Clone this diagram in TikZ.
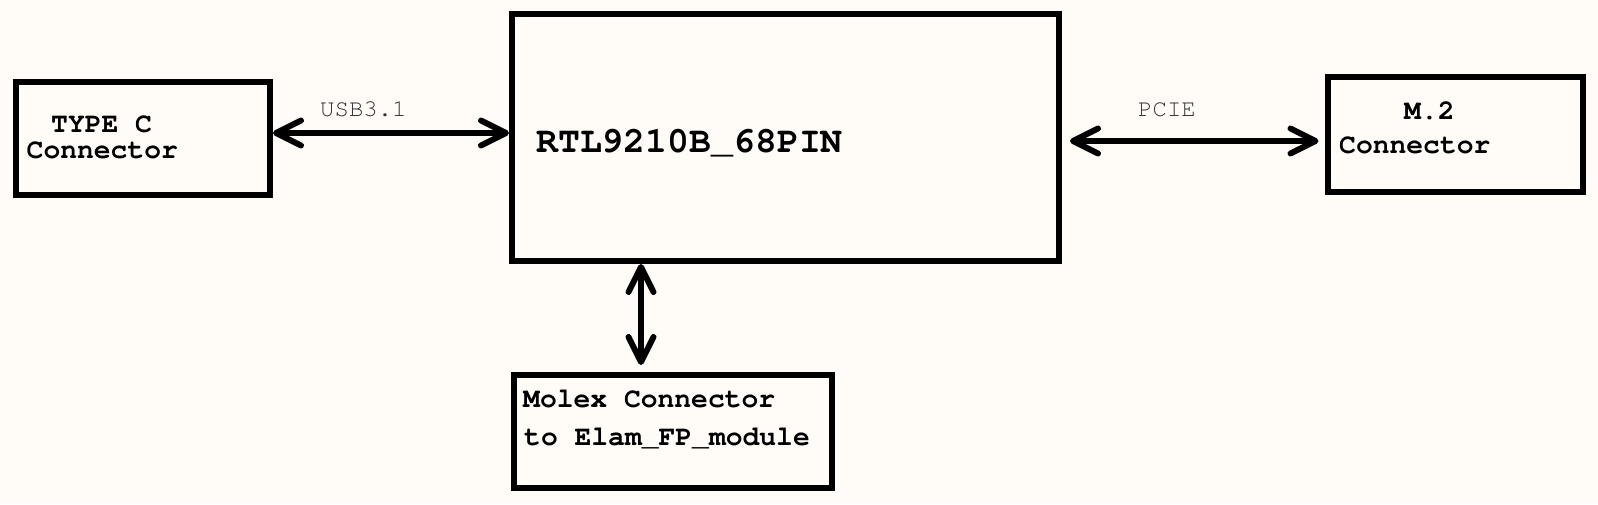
\documentclass[tikz,border=0pt]{standalone}
\usepackage{fontspec}
\setmainfont{texgyrecursor}[Extension=.otf, UprightFont=*-regular, BoldFont=*-bold]
\usetikzlibrary{arrows.meta}
\definecolor{bgc}{HTML}{FFFCF7}
\definecolor{lblc}{HTML}{333333}
\begin{document}
\begin{tikzpicture}[x=1pt,y=-1pt,
  box/.style={draw=black, line width=6pt, inner sep=0pt, rectangle},
  btext/.style={inner sep=0pt, anchor=base west, font=\fontsize{28}{28}\selectfont\bfseries},
  bigtext/.style={inner sep=0pt, anchor=base west, font=\fontsize{36.5}{36.5}\selectfont\bfseries},
  lbl/.style={inner sep=0pt, anchor=base west, text=lblc, font=\fontsize{24}{24}\selectfont},
  arr/.style={line width=6pt, {Straight Barb[length=25pt,width=25pt,round]}-{Straight Barb[length=25pt,width=25pt,round]}}]
\fill[bgc] (0,0) rectangle (1598,504);
\useasboundingbox (0,0) rectangle (1598,504);
% boxes
\node[box, minimum width=254pt, minimum height=113pt] (typec) at (143,138.5) {};
\node[box, minimum width=547pt, minimum height=247pt] (main) at (785.5,137.5) {};
\node[box, minimum width=255pt, minimum height=115pt] (m2) at (1455,134) {};
\node[box, minimum width=318pt, minimum height=113pt] (molex) at (673,431.5) {};
% texts
\node[btext] (t1) at (51,132) {TYPE C};
\node[btext] (t2) at (26.5,158) {Connector};
\node[bigtext] (t3) at (536,152) {RTL9210B\_68PIN};
\node[btext] (t4) at (1404,119) {M.2};
\node[btext] (t5) at (1339,153) {Connector};
\node[btext] (t6) at (523,407) {Molex Connector};
\node[btext] (t7) at (524,445) {to Elam\_FP\_module};
\node[lbl] (l1) at (320,116) {USB3.1};
\node[lbl] (l2) at (1138,116) {PCIE};
% connectors
\draw[arr] (typec.east |- 0,133) -- (main.west |- 0,133);
\draw[arr, shorten <=8pt, shorten >=6pt] (main.east |- 0,141) -- (m2.west |- 0,141);
\draw[arr, shorten >=7pt] (main.south -| 641,0) -- (molex.north -| 641,0);
\end{tikzpicture}
\end{document}
